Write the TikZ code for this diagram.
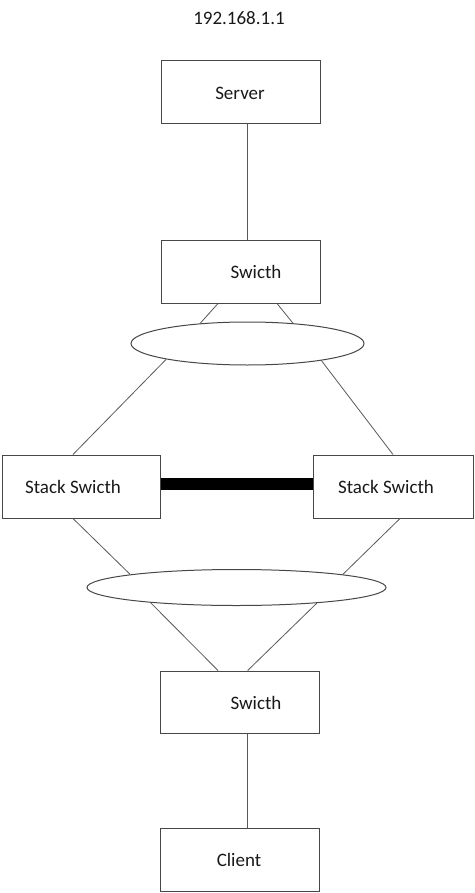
\documentclass[tikz,border=0pt]{standalone}
\usepackage{fontspec}
\setmainfont{Carlito}
\usetikzlibrary{shapes.geometric,calc}
\begin{document}
\begin{tikzpicture}[x=1pt,y=-1pt,
  box/.style={draw=black!72,line width=1pt,minimum width=159pt,minimum height=63pt,inner sep=0pt},
  lbl/.style={font=\fontsize{19}{22}\selectfont,inner sep=0pt,anchor=center,text=black!90},
  oval/.style={draw=black!72,line width=1pt,ellipse,inner sep=0pt},
  wire/.style={draw=black!65,line width=0.8pt},
  stacklink/.style={draw=black,line width=12pt}]
\useasboundingbox (0,0) rectangle (474,893);
% boxes
\node[box] (srv) at (240.5,92.5) {};
\node[box] (sw1) at (240.5,271.5) {};
\node[box,minimum width=158pt] (sl) at (81,486.5) {};
\node[box,minimum width=160pt] (sr) at (393,486.5) {};
\node[box,minimum height=62pt] (sw2) at (240,702) {};
\node[box,minimum height=63.5pt] (cl) at (240,860) {};
% ellipses
\node[oval,minimum width=233pt,minimum height=43pt] (e1) at (247.5,343.5) {};
\node[oval,minimum width=299pt,minimum height=36pt] (e2) at (236.5,587.5) {};
% texts
\node[lbl] (ip) at (239,18) {192.168.1.1};
\node[lbl] (tsrv) at (240,93) {Server};
\node[lbl] (tsw1) at (256,272) {Swicth};
\node[lbl] (tsl) at (73,487) {Stack Swicth};
\node[lbl] (tsr) at (386,487) {Stack Swicth};
\node[lbl] (tsw2) at (256,703) {Swicth};
\node[lbl] (tcl) at (239,860) {Client};
% connectors
\draw[wire] ($(srv.south)+(7.2,0)$) -- ($(sw1.north)+(7.2,0)$);
\draw[wire] ($(sw1.south)+(-22.5,0)$) -- (e1.157);
\draw[wire] ($(sw1.south)+(36.5,0)$) -- (e1.24);
\draw[wire] (e1.191) -- ($(sl.north)+(-8,0)$);
\draw[wire] (e1.347.5) -- (sr.north);
\draw[wire] ($(sl.south)+(-8,0)$) -- (e2.173);
\draw[wire] ($(sr.south)+(7,0)$) -- (e2.7);
\draw[wire] (e2.190) -- ($(sw2.north)+(-22,0)$);
\draw[wire] (e2.349) -- ($(sw2.north)+(7.7,0)$);
\draw[wire] ($(sw2.south)+(7.7,0)$) -- ($(cl.north)+(7.7,0)$);
\draw[stacklink] ($(sl.east)+(0,-2.5)$) -- ($(sr.west)+(0,-2.5)$);
\end{tikzpicture}
\end{document}
